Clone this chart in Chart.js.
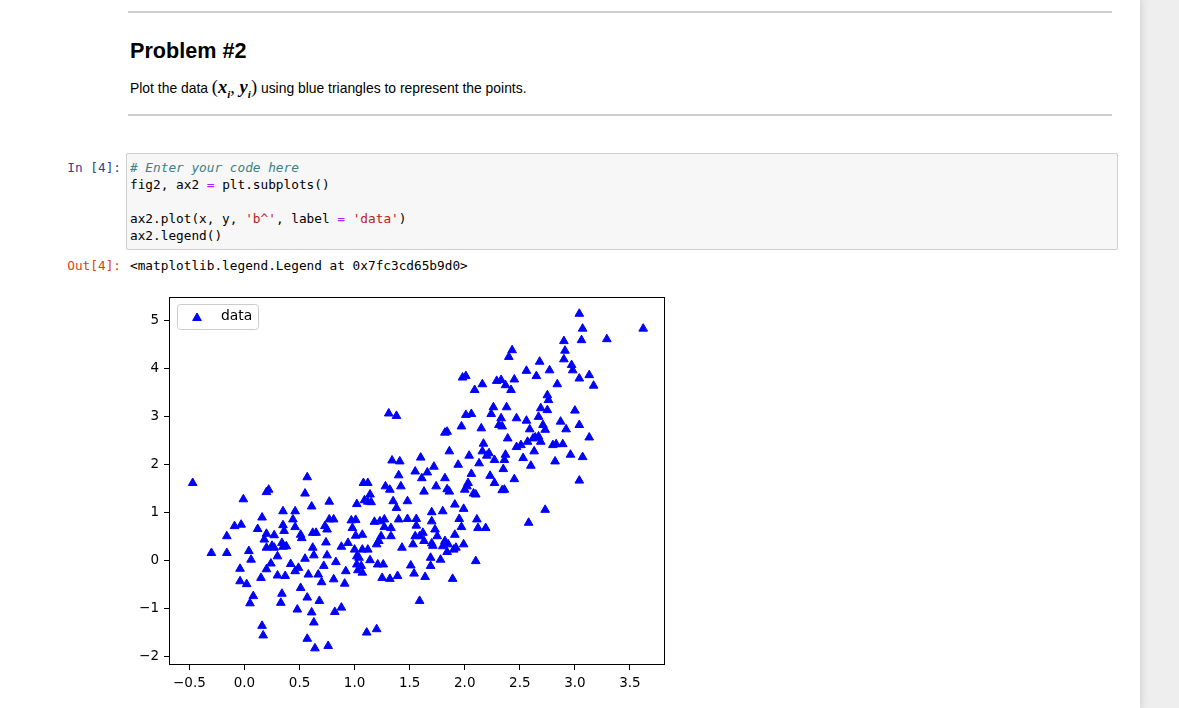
<!DOCTYPE html>
<html>
<head>
<meta charset="utf-8">
<script src="https://cdn.jsdelivr.net/npm/chart.js@4.4.1/dist/chart.umd.min.js"></script>
<style>
  html, body { margin: 0; padding: 0; }
  body { width: 1179px; height: 708px; overflow: hidden; background: #eeeeee; position: relative;
         font-family: "Liberation Sans", Arial, Helvetica, sans-serif; color: #000; }
  #page { position: absolute; left: 0; top: 0; width: 1140px; height: 708px; background: #fff;
          box-shadow: 0 0 8px 1px rgba(87, 87, 87, 0.2); }
  .rule { position: absolute; left: 128px; width: 984px; height: 2px; background: #cfcfcf; }
  .h2 { position: absolute; left: 130px; top: 38px; font-size: 21.6px; font-weight: bold; line-height: 26px; white-space: nowrap; }
  .p { position: absolute; left: 130px; top: 77px; font-size: 13.9px; line-height: 20px; white-space: nowrap; }
  .math { font-family: "Liberation Serif", "DejaVu Serif", serif; font-size: 18.5px; }
  .math i { font-weight: bold; }
  .math sub { font-size: 11px; }
  .mono { font-family: "DejaVu Sans Mono", "Liberation Mono", monospace; font-size: 12.75px; line-height: 17px; white-space: pre; }
  .prompt { position: absolute; left: 0; width: 121px; text-align: right; }
  .in { top: 159px; color: #303f9f; }
  .out { top: 257px; color: #d84315; }
  .cell { position: absolute; left: 126px; top: 153px; width: 990px; height: 95px; background: #f7f7f7;
          border: 1px solid #cfcfcf; border-radius: 2px; }
  .code { position: absolute; left: 130px; top: 159px; }
  .result { position: absolute; left: 130px; top: 257px; }
  .c { color: #408080; font-style: italic; }
  .o { color: #aa22ff; }
  .s { color: #ba2121; }
  #chart { position: absolute; left: 130px; top: 287px; }
</style>
</head>
<body>
<div id="page">
  <div class="rule" style="top:11px"></div>
  <div class="h2">Problem #2</div>
  <div class="p">Plot the data <span class="math">(<i>x<sub>i</sub></i>, <i>y<sub>i</sub></i>)</span> using blue triangles to represent the points.</div>
  <div class="rule" style="top:114px"></div>

  <div class="prompt in mono">In [4]:</div>
  <div class="cell"></div>
  <div class="code mono"><span class="c"># Enter your code here</span>
fig2, ax2 <span class="o">=</span> plt.subplots()

ax2.plot(x, y, <span class="s">'b^'</span>, label <span class="o">=</span> <span class="s">'data'</span>)
ax2.legend()</div>

  <div class="prompt out mono">Out[4]:</div>
  <div class="result mono">&lt;matplotlib.legend.Legend at 0x7fc3cd65b9d0&gt;</div>

  <canvas id="chart" width="545" height="410"></canvas>
</div>

<script>
const X_TICKS = [-0.5, 0, 0.5, 1, 1.5, 2, 2.5, 3, 3.5]
const Y_TICKS = [-2, -1, 0, 1, 2, 3, 4, 5]

// points
const x = [
  -0.47, -0.30, -0.16, -0.16, -0.09, -0.03, -0.01, -0.04, -0.04, 0.02,
  0.04, 0.06, 0.08, 0.05, 0.12, 0.15, 0.16, 0.16, 0.17, 0.18,
  0.20, 0.20, 0.22, 0.20, 0.20, 0.25, 0.24, 0.27, 0.27, 0.30,
  0.30, 0.34, 0.33, 0.35, 0.35, 0.35, 0.36, 0.37, 0.38, 0.34,
  0.42, 0.44, 0.46, 0.46, 0.46, 0.48, 0.49, 0.51, 0.51, 0.52,
  0.55, 0.57, 0.57, 0.55, 0.57, 0.58, 0.61, 0.61, 0.62, 0.62,
  0.63, 0.63, 0.64, 0.65, 0.67, 0.68, 0.70, 0.72, 0.73, 0.74,
  0.75, 0.76, 0.77, 0.75, 0.77, 0.81, 0.81, 0.82, 0.83, 0.88,
  0.88, 0.91, 0.92, 0.94, 0.97, 0.98, 1.00, 1.01, 1.02, 1.01,
  1.02, 1.02, 1.03, 1.04, 1.06, 1.07, 1.07, 1.07, 1.08, 1.11,
  1.09, 1.12, 1.12, 1.12, 1.14, 1.14, 1.15, 1.18, 1.20, 1.20,
  1.21, 1.22, 1.23, 1.24, 1.25, 1.26, 1.27, 1.27, 1.28, 1.31,
  1.32, 1.32, 1.33, 1.33, 1.34, 1.35, 1.38, 1.38, 1.39, 1.40,
  1.40, 1.41, 1.42, 1.43, 1.48, 1.48, 1.51, 1.53, 1.54, 1.55,
  1.55, 1.56, 1.56, 1.59, 1.59, 1.60, 1.61, 1.62, 1.63, 1.63,
  1.64, 1.66, 1.69, 1.69, 1.70, 1.70, 1.70, 1.71, 1.72, 1.73,
  1.74, 1.75, 1.78, 1.80, 1.80, 1.82, 1.82, 1.82, 1.84, 1.84,
  1.84, 1.85, 1.86, 1.86, 1.89, 1.90, 1.91, 1.91, 1.92, 1.94,
  1.95, 1.97, 1.97, 1.98, 1.99, 1.99, 2.00, 2.01, 2.01, 2.02,
  2.03, 2.04, 2.06, 2.06, 2.08, 2.09, 2.10, 2.10, 2.11, 2.12,
  2.13, 2.15, 2.16, 2.17, 2.16, 2.19, 2.20, 2.22, 2.23, 2.24,
  2.26, 2.27, 2.27, 2.29, 2.31, 2.33, 2.33, 2.34, 2.34, 2.35,
  2.36, 2.36, 2.37, 2.37, 2.38, 2.39, 2.40, 2.42, 2.43, 2.45,
  2.45, 2.47, 2.47, 2.51, 2.53, 2.56, 2.56, 2.57, 2.58, 2.59,
  2.60, 2.62, 2.63, 2.64, 2.65, 2.67, 2.67, 2.68, 2.69, 2.69,
  2.71, 2.73, 2.73, 2.75, 2.75, 2.76, 2.77, 2.80, 2.82, 2.83,
  2.84, 2.87, 2.89, 2.90, 2.91, 2.90, 2.92, 2.96, 2.97, 2.98,
  3.00, 3.04, 3.04, 3.04, 3.04, 3.06, 3.07, 3.07, 3.13, 3.13,
  3.17, 3.29, 3.62
]
const y = [
  1.61, 0.15, 0.50, 0.15, 0.71, 0.74, 1.27, -0.18, -0.44, -0.50,
  0.19, 0.01, -0.75, -0.90, 0.65, -0.37, 0.89, -1.37, -1.57, 0.43,
  -0.19, 1.42, 1.47, 0.55, 0.26, 0.30, -0.07, 0.52, 0.26, 0.08,
  -0.32, -0.70, -0.89, 0.28, 1.02, 0.73, 0.61, -0.33, 0.29, 0.36,
  -0.08, 0.85, 1.02, -0.23, 0.69, -1.03, -0.16, -0.58, 0.53, 0.46,
  1.39, 1.73, -0.78, 0.03, -1.64, -0.30, -1.09, 1.12, 0.26, 0.57,
  0.10, -1.30, -1.84, 0.57, -0.30, -0.85, -0.46, -0.12, 0.71, 0.37,
  0.10, -1.79, 1.22, 0.64, 0.85, 0.85, -0.40, -1.08, -0.04, -0.99,
  0.28, -0.49, -0.23, 0.36, 0.83, 0.67, 0.22, 0.84, 1.17, 0.51,
  0.08, -0.09, -0.21, 0.05, -0.12, 0.22, 0.53, -0.26, 1.61, -1.51,
  1.25, 1.61, 1.22, 0.22, 0.00, 1.37, 1.21, 0.80, -1.44, 0.33,
  -0.09, 0.40, 0.81, 0.50, -0.37, -0.09, 0.85, 0.69, 1.54, 3.06,
  -0.39, 1.47, 0.67, 0.50, 2.08, 1.23, 3.01, 1.09, -0.33, 1.77,
  0.85, 2.06, 1.54, 0.26, 1.23, 0.86, -0.11, 0.33, -0.28, 1.85,
  0.50, 0.86, 0.72, -0.85, 0.50, 2.14, 1.71, 0.57, 0.40, 1.43,
  -0.35, 1.83, -0.12, 0.05, 0.35, 1.00, 0.81, 0.30, 1.95, 0.64,
  1.54, 0.50, 0.01, 1.02, 0.29, 2.66, 1.71, 0.40, 1.48, 2.68,
  0.17, 0.33, 2.27, 1.43, -0.39, 0.22, 1.16, 0.53, 0.26, 1.99,
  0.86, 0.69, 2.79, 3.81, 1.07, 0.33, 1.47, 3.03, 3.84, 1.54,
  1.61, 2.18, 1.80, 3.05, 1.39, 3.55, -0.02, 1.37, 0.85, 0.67,
  2.02, 2.75, 3.67, 2.43, 2.27, 0.67, 2.18, 2.23, 1.76, 3.05,
  3.19, 1.61, 2.09, 3.74, 2.82, 2.96, 3.76, 1.46, 2.79, 1.90,
  2.09, 1.47, 3.65, 2.20, 3.19, 2.54, 4.24, 3.55, 4.38, 3.77,
  1.69, 2.96, 2.36, 2.40, 2.13, 3.95, 2.91, 2.47, 0.78, 2.73,
  1.97, 2.54, 2.27, 2.56, 3.84, 2.99, 2.58, 4.14, 2.47, 3.17,
  2.82, 1.05, 2.72, 3.13, 3.44, 3.34, 3.96, 2.40, 2.06, 2.42,
  3.67, 2.89, 2.42, 4.57, 4.37, 4.19, 2.73, 2.20, 4.07, 3.96,
  3.12, 2.82, 5.14, 3.79, 1.66, 4.59, 4.83, 2.15, 2.56, 3.86,
  3.64, 4.61, 4.83
]

const BLUE = '#0000ff'
const TICK_FONT = { family: 'DejaVu Sans', size: 13.5 }

const minus = s => s.replace('-', '\u2212')

// matplotlib-style box around the axes
const framePlugin = {
	id: 'frame',
	afterDraw(chart) {
		const { ctx, chartArea: a } = chart
		ctx.save()
		ctx.strokeStyle = '#000'
		ctx.lineWidth = 1
		ctx.strokeRect(Math.round(a.left) + 0.5, Math.round(a.top) + 0.5,
			Math.round(a.right - a.left) - 1, Math.round(a.bottom - a.top) - 1)
		ctx.restore()
	}
}

// legend drawn inside the upper-left corner of the axes
const insideLegend = {
	id: 'insideLegend',
	afterDraw(chart) {
		const { ctx, chartArea: a } = chart
		const ds = chart.data.datasets[0]
		const bx = a.left + 8, by = a.top + 7, bw = 81, bh = 25
		ctx.save()
		ctx.beginPath()
		ctx.roundRect(bx + 0.5, by + 0.5, bw, bh, 3)
		ctx.fillStyle = 'rgba(255,255,255,0.8)'
		ctx.fill()
		ctx.strokeStyle = '#cccccc'
		ctx.lineWidth = 1
		ctx.stroke()
		ctx.fillStyle = BLUE
		ctx.strokeStyle = BLUE
		ctx.lineWidth = 1
		Chart.helpers.drawPoint(ctx, { pointStyle: 'triangle', radius: 5, borderWidth: 1, rotation: 0 }, bx + 20, by + 14)
		ctx.fillStyle = '#000'
		ctx.font = '13.9px "DejaVu Sans"'
		ctx.textBaseline = 'middle'
		ctx.fillText(ds.label, bx + 44, by + 12.5)
		ctx.restore()
	}
}

const ctx = document.getElementById('chart').getContext('2d')
const chart = new Chart(ctx, {
	type: 'scatter',
	data: {
		datasets: [{
			label: 'data',
			data: x.map((v, i) => ({ x: v, y: y[i] })),
			pointStyle: 'triangle',
			pointRadius: 5,
			pointBorderWidth: 1,
			backgroundColor: BLUE,
			borderColor: BLUE
		}]
	},
	options: {
		responsive: false,
		animation: false,
		devicePixelRatio: 1,
		layout: { padding: { left: 0, top: 10, right: 10, bottom: 0 } },
		plugins: {
			legend: { display: false },
			tooltip: { enabled: false }
		},
		scales: {
			x: {
				type: 'linear',
				min: -0.685,
				max: 3.818,
				afterBuildTicks: s => { s.ticks = X_TICKS.map(v => ({ value: v })) },
				afterFit: s => { s.height = 32; s.paddingLeft = 0; s.paddingRight = 0 },
				grid: { drawOnChartArea: false, drawTicks: true, tickLength: 5, color: '#000' },
				border: { display: false },
				ticks: {
					color: '#000', font: TICK_FONT, padding: 5, maxRotation: 0, autoSkip: false,
					callback: v => minus(v.toFixed(1))
				}
			},
			y: {
				type: 'linear',
				min: -2.187,
				max: 5.49,
				afterBuildTicks: s => { s.ticks = Y_TICKS.map(v => ({ value: v })) },
				afterFit: s => { s.width = 39; s.paddingTop = 0; s.paddingBottom = 0 },
				grid: { drawOnChartArea: false, drawTicks: true, tickLength: 5, color: '#000' },
				border: { display: false },
				ticks: {
					color: '#000', font: TICK_FONT, padding: 5, autoSkip: false,
					callback: v => minus(String(v))
				}
			}
		}
	},
	plugins: [framePlugin, insideLegend]
})
</script>
</body>
</html>
